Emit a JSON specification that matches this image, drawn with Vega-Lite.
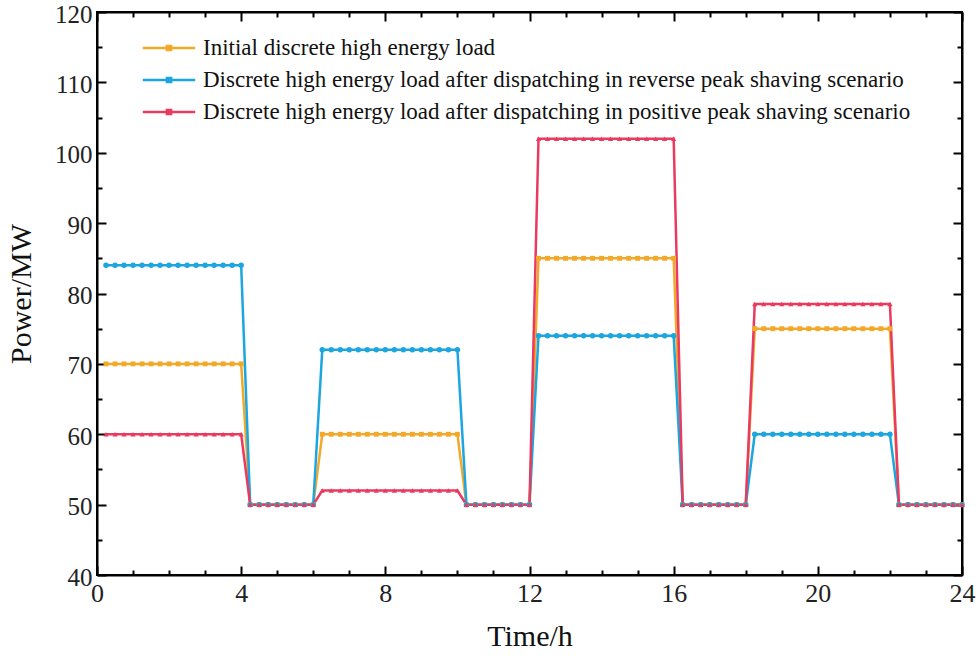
{
  "$schema": "https://vega.github.io/schema/vega-lite/v6.json",
  "width": 865,
  "height": 563,
  "autosize": {"type": "none"},
  "padding": {"left": 97, "top": 12, "right": 18, "bottom": 89},
  "background": "white",
  "config": {
    "view": {"stroke": "black", "strokeWidth": 2},
    "font": "Liberation Serif",
    "axis": {
      "domainColor": "black", "domainWidth": 2, "tickColor": "black", "tickWidth": 2,
      "labelColor": "#222", "titleColor": "#111", "labelFont": "Liberation Serif", "titleFont": "Liberation Serif",
      "labelFontSize": 26, "titleFontSize": 30, "titleFontWeight": "normal", "grid": false
    }
  },
  "data": {"values": [
    {"t":0.25,"a":70,"b":84,"c":60},{"t":0.5,"a":70,"b":84,"c":60},{"t":0.75,"a":70,"b":84,"c":60},{"t":1,"a":70,"b":84,"c":60},
    {"t":1.25,"a":70,"b":84,"c":60},{"t":1.5,"a":70,"b":84,"c":60},{"t":1.75,"a":70,"b":84,"c":60},{"t":2,"a":70,"b":84,"c":60},
    {"t":2.25,"a":70,"b":84,"c":60},{"t":2.5,"a":70,"b":84,"c":60},{"t":2.75,"a":70,"b":84,"c":60},{"t":3,"a":70,"b":84,"c":60},
    {"t":3.25,"a":70,"b":84,"c":60},{"t":3.5,"a":70,"b":84,"c":60},{"t":3.75,"a":70,"b":84,"c":60},{"t":4,"a":70,"b":84,"c":60},
    {"t":4.25,"a":50,"b":50,"c":50},{"t":4.5,"a":50,"b":50,"c":50},{"t":4.75,"a":50,"b":50,"c":50},{"t":5,"a":50,"b":50,"c":50},
    {"t":5.25,"a":50,"b":50,"c":50},{"t":5.5,"a":50,"b":50,"c":50},{"t":5.75,"a":50,"b":50,"c":50},{"t":6,"a":50,"b":50,"c":50},
    {"t":6.25,"a":60,"b":72,"c":52},{"t":6.5,"a":60,"b":72,"c":52},{"t":6.75,"a":60,"b":72,"c":52},{"t":7,"a":60,"b":72,"c":52},
    {"t":7.25,"a":60,"b":72,"c":52},{"t":7.5,"a":60,"b":72,"c":52},{"t":7.75,"a":60,"b":72,"c":52},{"t":8,"a":60,"b":72,"c":52},
    {"t":8.25,"a":60,"b":72,"c":52},{"t":8.5,"a":60,"b":72,"c":52},{"t":8.75,"a":60,"b":72,"c":52},{"t":9,"a":60,"b":72,"c":52},
    {"t":9.25,"a":60,"b":72,"c":52},{"t":9.5,"a":60,"b":72,"c":52},{"t":9.75,"a":60,"b":72,"c":52},{"t":10,"a":60,"b":72,"c":52},
    {"t":10.25,"a":50,"b":50,"c":50},{"t":10.5,"a":50,"b":50,"c":50},{"t":10.75,"a":50,"b":50,"c":50},{"t":11,"a":50,"b":50,"c":50},
    {"t":11.25,"a":50,"b":50,"c":50},{"t":11.5,"a":50,"b":50,"c":50},{"t":11.75,"a":50,"b":50,"c":50},{"t":12,"a":50,"b":50,"c":50},
    {"t":12.25,"a":85,"b":74,"c":102},{"t":12.5,"a":85,"b":74,"c":102},{"t":12.75,"a":85,"b":74,"c":102},{"t":13,"a":85,"b":74,"c":102},
    {"t":13.25,"a":85,"b":74,"c":102},{"t":13.5,"a":85,"b":74,"c":102},{"t":13.75,"a":85,"b":74,"c":102},{"t":14,"a":85,"b":74,"c":102},
    {"t":14.25,"a":85,"b":74,"c":102},{"t":14.5,"a":85,"b":74,"c":102},{"t":14.75,"a":85,"b":74,"c":102},{"t":15,"a":85,"b":74,"c":102},
    {"t":15.25,"a":85,"b":74,"c":102},{"t":15.5,"a":85,"b":74,"c":102},{"t":15.75,"a":85,"b":74,"c":102},{"t":16,"a":85,"b":74,"c":102},
    {"t":16.25,"a":50,"b":50,"c":50},{"t":16.5,"a":50,"b":50,"c":50},{"t":16.75,"a":50,"b":50,"c":50},{"t":17,"a":50,"b":50,"c":50},
    {"t":17.25,"a":50,"b":50,"c":50},{"t":17.5,"a":50,"b":50,"c":50},{"t":17.75,"a":50,"b":50,"c":50},{"t":18,"a":50,"b":50,"c":50},
    {"t":18.25,"a":75,"b":60,"c":78.5},{"t":18.5,"a":75,"b":60,"c":78.5},{"t":18.75,"a":75,"b":60,"c":78.5},{"t":19,"a":75,"b":60,"c":78.5},
    {"t":19.25,"a":75,"b":60,"c":78.5},{"t":19.5,"a":75,"b":60,"c":78.5},{"t":19.75,"a":75,"b":60,"c":78.5},{"t":20,"a":75,"b":60,"c":78.5},
    {"t":20.25,"a":75,"b":60,"c":78.5},{"t":20.5,"a":75,"b":60,"c":78.5},{"t":20.75,"a":75,"b":60,"c":78.5},{"t":21,"a":75,"b":60,"c":78.5},
    {"t":21.25,"a":75,"b":60,"c":78.5},{"t":21.5,"a":75,"b":60,"c":78.5},{"t":21.75,"a":75,"b":60,"c":78.5},{"t":22,"a":75,"b":60,"c":78.5},
    {"t":22.25,"a":50,"b":50,"c":50},{"t":22.5,"a":50,"b":50,"c":50},{"t":22.75,"a":50,"b":50,"c":50},{"t":23,"a":50,"b":50,"c":50},
    {"t":23.25,"a":50,"b":50,"c":50},{"t":23.5,"a":50,"b":50,"c":50},{"t":23.75,"a":50,"b":50,"c":50},{"t":24,"a":50,"b":50,"c":50}
  ]},
  "layer": [
    {
      "transform": [{"fold": ["a", "b", "c"], "as": ["key", "val"]}],
      "mark": {"type": "line", "strokeWidth": 2.5},
      "encoding": {
        "x": {"field": "t", "type": "quantitative", "scale": {"domain": [0, 24], "nice": false, "zero": false},
          "axis": {"orient": "bottom", "title": "Time/h", "values": [0,1,2,3,4,5,6,7,8,9,10,11,12,13,14,15,16,17,18,19,20,21,22,23,24],
            "labelExpr": "datum.value % 4 === 0 ? datum.label : ''",
            "tickSize": {"condition": {"test": "datum.value % 4 === 0", "value": -9}, "value": -5},
            "labelPadding": 14, "titlePadding": 11, "labelFlush": false, "labelOverlap": false}},
        "y": {"field": "val", "type": "quantitative", "scale": {"domain": [40, 120], "nice": false, "zero": false},
          "axis": {"orient": "left", "title": "Power/MW", "values": [40,45,50,55,60,65,70,75,80,85,90,95,100,105,110,115,120],
            "labelExpr": "datum.value % 10 === 0 ? datum.label : ''",
            "tickSize": {"condition": {"test": "datum.value % 10 === 0", "value": -9}, "value": -5},
            "labelFontSize": 25, "labelOffset": 2,
            "labelPadding": 14, "titlePadding": 18, "labelFlush": false, "labelOverlap": false}},
        "color": {"field": "key", "type": "nominal",
          "scale": {"domain": ["a", "b", "c"], "range": ["#F2A92A", "#1CA6DF", "#E93A5F"]},
          "legend": {"orient": "none", "legendX": 60, "legendY": 24, "title": null,
            "symbolType": "M-2.5,0H2.5M-0.2,-0.2H0.2V0.2H-0.2Z", "symbolSize": 440, "symbolStrokeWidth": 2.5,
            "labelFontSize": 23, "labelFont": "Liberation Serif", "labelColor": "#111", "labelLimit": 0,
            "rowPadding": 8, "labelOffset": 22,
            "labelExpr": "datum.value == 'a' ? 'Initial discrete high energy load' : datum.value == 'b' ? 'Discrete high energy load after dispatching in reverse peak shaving scenario' : 'Discrete high energy load after dispatching in positive peak shaving scenario'"}}
      }
    },
    {
      "mark": {"type": "point", "filled": true, "size": 24, "opacity": 1, "strokeWidth": 0, "shape": "square", "color": "#F2A92A"},
      "encoding": {
        "x": {"field": "t", "type": "quantitative", "axis": null},
        "y": {"field": "a", "type": "quantitative", "axis": null}
      }
    },
    {
      "mark": {"type": "point", "filled": true, "size": 30, "opacity": 1, "strokeWidth": 0, "shape": "circle", "color": "#1CA6DF"},
      "encoding": {
        "x": {"field": "t", "type": "quantitative", "axis": null},
        "y": {"field": "b", "type": "quantitative", "axis": null}
      }
    },
    {
      "mark": {"type": "point", "filled": true, "size": 28, "opacity": 1, "strokeWidth": 0, "shape": "triangle-up", "color": "#E93A5F"},
      "encoding": {
        "x": {"field": "t", "type": "quantitative", "axis": null},
        "y": {"field": "c", "type": "quantitative", "axis": null}
      }
    },
    {
      "mark": {"type": "point", "opacity": 0},
      "encoding": {
        "x": {"field": "t", "type": "quantitative",
          "axis": {"orient": "top", "title": null, "labels": false, "values": [0,1,2,3,4,5,6,7,8,9,10,11,12,13,14,15,16,17,18,19,20,21,22,23,24],
            "tickSize": {"condition": {"test": "datum.value % 4 === 0", "value": -9}, "value": -5}}},
        "y": {"field": "a", "type": "quantitative",
          "axis": {"orient": "right", "title": null, "labels": false, "values": [40,45,50,55,60,65,70,75,80,85,90,95,100,105,110,115,120],
            "tickSize": {"condition": {"test": "datum.value % 10 === 0", "value": -9}, "value": -5}}}
      }
    }
  ],
  "resolve": {"axis": {"x": "independent", "y": "independent"}}
}
